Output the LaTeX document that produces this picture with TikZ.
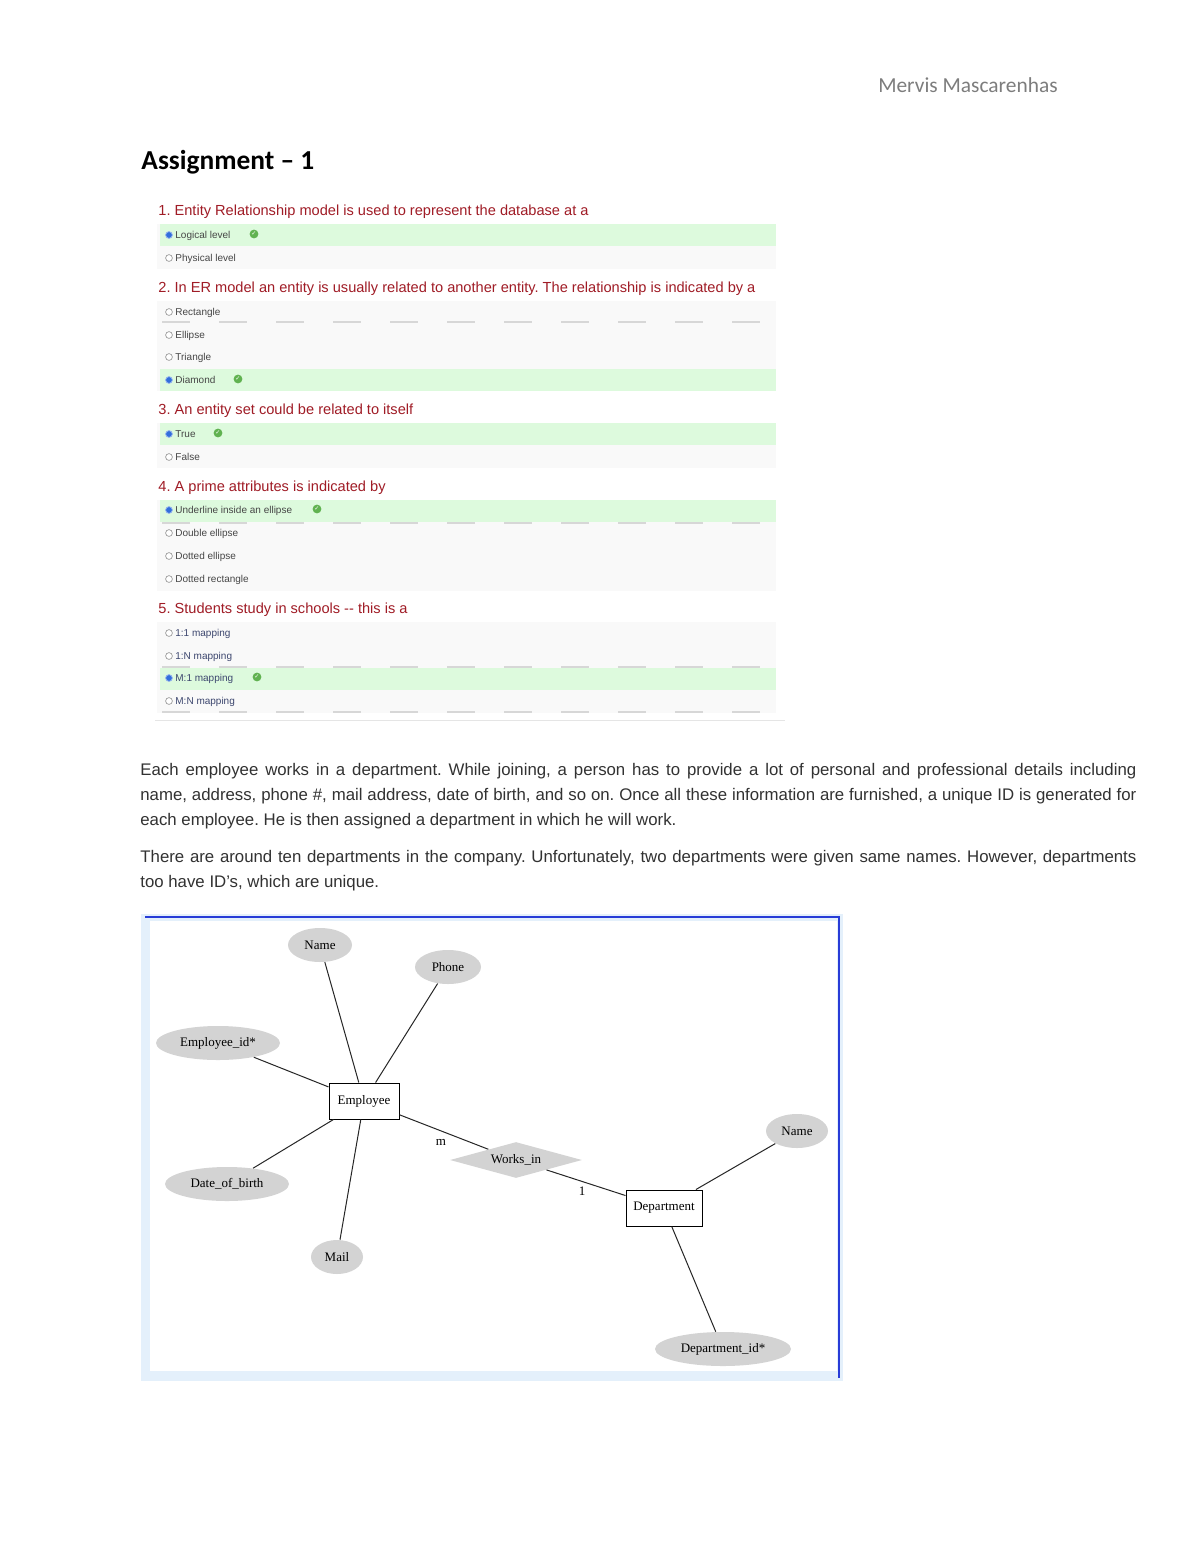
\documentclass[tikz,border=0pt]{standalone}
\usepackage{fontspec}
\setmainfont{Liberation Sans}
\newfontfamily\calfont{Carlito}
\newfontfamily\erfont{Liberation Serif}
\newfontfamily\symfont{DejaVu Sans}
\usetikzlibrary{shapes.geometric}
\frenchspacing
\definecolor{qred}{RGB}{160,28,38}
\definecolor{optgray}{RGB}{70,70,70}
\definecolor{optblue}{RGB}{60,70,110}
\definecolor{rowgreen}{RGB}{221,250,221}
\definecolor{rowgrey}{RGB}{249,249,249}
\definecolor{dashgrey}{RGB}{215,215,215}
\definecolor{checkgreen}{RGB}{96,178,80}
\definecolor{radioblue}{RGB}{50,110,220}
\definecolor{framefill}{RGB}{228,240,251}
\definecolor{frameblue}{RGB}{40,60,215}
\definecolor{attrgray}{RGB}{211,211,211}
\definecolor{bodytext}{RGB}{50,50,50}
\definecolor{headgray}{RGB}{125,125,125}
\begin{document}
\begin{tikzpicture}[x=0.5pt,y=-0.5pt,
  qtext/.style={anchor=base west, inner sep=0pt, text=qred, font=\fontsize{7.3pt}{8.5pt}\selectfont},
  opttext/.style={anchor=base west, inner sep=0pt, text=optgray, font=\fontsize{5pt}{6pt}\selectfont},
  mapopt/.style={opttext, text=optblue},
  bodyline/.style={anchor=base west, inner sep=0pt, text=bodytext, font=\fontsize{8.4pt}{10pt}\selectfont},
  radiooff/.style={circle, draw=black!45, line width=0.3pt, fill=white, minimum size=3.4pt, inner sep=0pt},
  radioon/.style={circle, draw=radioblue!50, line width=0.4pt, fill=radioblue, minimum size=3.4pt, inner sep=0pt},
  tick/.style={circle, fill=checkgreen, minimum size=4.4pt, inner sep=0pt, text=white, font=\symfont\fontsize{3pt}{3pt}\selectfont},
  rowdash/.style={dashgrey, line width=0.6pt, dash pattern=on 14pt off 14.5pt},
  erfontsty/.style={font=\erfont\fontsize{6.5pt}{7pt}\selectfont},
  attr/.style={ellipse, fill=attrgray, inner sep=0pt, erfontsty, minimum height=17pt},
  entity/.style={rectangle, draw=black, line width=0.5pt, fill=white, erfontsty, minimum width=35pt, minimum height=18pt, inner sep=0pt},
  rel/.style={diamond, fill=attrgray, inner sep=0pt, erfontsty, minimum width=66pt, minimum height=18pt, aspect=3.67},
  card/.style={inner sep=0pt, erfontsty},
  conn/.style={line width=0.5pt, draw=black!85}
]
\useasboundingbox (0,0) rectangle (1200,1553);
\fill[white] (0,0) rectangle (1200,1553);

% header and title
\node[anchor=base east, inner sep=0pt, text=headgray, font=\calfont\fontsize{10.7pt}{12pt}\selectfont] (author) at (1058,92) {Mervis Mascarenhas};
\node[anchor=base west, inner sep=0pt, font=\calfont\bfseries\fontsize{13.7pt}{15pt}\selectfont] (title) at (141,169) {Assignment – 1};

% quiz backgrounds
\fill[rowgrey] (157,224) rectangle (776,269);
\fill[rowgrey] (157,301) rectangle (776,391);
\fill[rowgrey] (157,423) rectangle (776,468);
\fill[rowgrey] (157,500) rectangle (776,591);
\fill[rowgrey] (157,622) rectangle (776,713);
\fill[rowgreen] (160,224) rectangle (776,246);
\fill[rowgreen] (160,369) rectangle (776,391);
\fill[rowgreen] (160,423) rectangle (776,445);
\fill[rowgreen] (160,500) rectangle (776,522);
\fill[rowgreen] (160,668) rectangle (776,690);
\draw[rowdash] (162,322) -- (776,322);
\draw[rowdash] (162,523) -- (776,523);
\draw[rowdash] (162,667) -- (776,667);
\draw[rowdash] (162,712) -- (776,712);
\draw[black!10, line width=0.5pt] (155,720) -- (785,720);

% questions
\node[qtext] (q1) at (158,215) {1. Entity Relationship model is used to represent the database at a};
\node[qtext] (q2) at (158,292) {2. In ER model an entity is usually related to another entity. The relationship is indicated by a};
\node[qtext] (q3) at (158,414) {3. An entity set could be related to itself};
\node[qtext] (q4) at (158,491) {4. A prime attributes is indicated by};
\node[qtext] (q5) at (158,613) {5. Students study in schools {-}{-} this is a};

% options
\node[radioon]  (r11) at (169,235) {}; \node[opttext] (o11) at (175,238.6) {Logical level}; \node[tick] (t1) at (254,234) {✓};
\node[radiooff] (r12) at (169,258) {}; \node[opttext] (o12) at (175,261.6) {Physical level};
\node[radiooff] (r21) at (169,312) {}; \node[opttext] (o21) at (175,315.6) {Rectangle};
\node[radiooff] (r22) at (169,335) {}; \node[opttext] (o22) at (175,338.6) {Ellipse};
\node[radiooff] (r23) at (169,357) {}; \node[opttext] (o23) at (175,360.6) {Triangle};
\node[radioon]  (r24) at (169,380) {}; \node[opttext] (o24) at (175,383.6) {Diamond}; \node[tick] (t2) at (238,379) {✓};
\node[radioon]  (r31) at (169,434) {}; \node[opttext] (o31) at (175,437.6) {True}; \node[tick] (t3) at (218,433) {✓};
\node[radiooff] (r32) at (169,457) {}; \node[opttext] (o32) at (175,460.6) {False};
\node[radioon]  (r41) at (169,510) {}; \node[opttext] (o41) at (175,513.6) {Underline inside an ellipse}; \node[tick] (t4) at (317,509) {✓};
\node[radiooff] (r42) at (169,533) {}; \node[opttext] (o42) at (175,536.6) {Double ellipse};
\node[radiooff] (r43) at (169,556) {}; \node[opttext] (o43) at (175,559.6) {Dotted ellipse};
\node[radiooff] (r44) at (169,579) {}; \node[opttext] (o44) at (175,582.6) {Dotted rectangle};
\node[radiooff] (r51) at (169,633) {}; \node[mapopt] (o51) at (175,636.6) {1:1 mapping};
\node[radiooff] (r52) at (169,656) {}; \node[mapopt] (o52) at (175,659.6) {1:N mapping};
\node[radioon]  (r53) at (169,678) {}; \node[mapopt] (o53) at (175,681.6) {M:1 mapping}; \node[tick] (t5) at (257,677) {✓};
\node[radiooff] (r54) at (169,701) {}; \node[mapopt] (o54) at (175,704.6) {M:N mapping};

% paragraph
\node[bodyline] (p1) at (140,775) {\makebox[498pt][s]{Each employee works in a department. While joining, a person has to provide a lot of personal and professional details including}};
\node[bodyline] (p2) at (140,800) {\makebox[498pt][s]{name, address, phone \#, mail address, date of birth, and so on. Once all these information are furnished, a unique ID is generated for}};
\node[bodyline] (p3) at (140,825) {each employee. He is then assigned a department in which he will work.};
\node[bodyline] (p4) at (140,862) {\makebox[498pt][s]{There are around ten departments in the company. Unfortunately, two departments were given same names. However, departments}};
\node[bodyline] (p5) at (140,887) {too have ID's, which are unique.};

% ER frame
\fill[framefill] (141,914) rectangle (843,1381);
\fill[white] (150,921) rectangle (837,1371);
\draw[frameblue, line width=1pt] (145,917) -- (839,917) -- (839,1378);

% ER nodes
\node[attr, minimum width=32pt] (ename) at (320,945) {Name};
\node[attr, minimum width=33pt] (phone) at (448,967) {Phone};
\node[attr, minimum width=62pt] (empid) at (218,1043) {Employee\_id*};
\node[entity] (emp) at (364,1101) {Employee};
\node[attr, minimum width=62pt] (dob) at (227,1184) {Date\_of\_birth};
\node[attr, minimum width=26pt] (mail) at (337,1257) {Mail};
\node[rel] (works) at (516,1160) {Works\_in};
\node[attr, minimum width=31pt] (dname) at (797,1131) {Name};
\node[entity, minimum width=38pt] (dept) at (664,1208) {Department};
\node[attr, minimum width=68pt] (deptid) at (723,1349) {Department\_id*};
\node[card] (cm) at (441,1142) {m};
\node[card] (c1) at (582,1191) {1};

% ER connectors
\draw[conn] (emp) -- (ename);
\draw[conn] (emp) -- (phone);
\draw[conn] (emp) -- (empid);
\draw[conn] (emp) -- (dob);
\draw[conn] (emp) -- (mail);
\draw[conn] (emp) -- (works);
\draw[conn] (works) -- (dept);
\draw[conn] (dept) -- (dname);
\draw[conn] (dept) -- (deptid);
\end{tikzpicture}
\end{document}
